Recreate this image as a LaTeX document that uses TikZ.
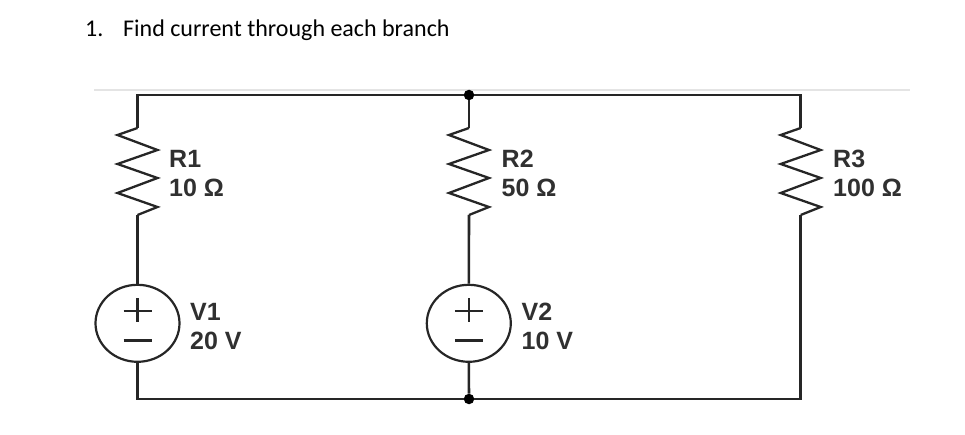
\documentclass[tikz,border=0pt]{standalone}
\usepackage{fontspec}
\setmainfont{Liberation Sans}
\newfontfamily\titlefont{Carlito}
\usetikzlibrary{shapes.geometric}
\definecolor{wirecol}{HTML}{262626}
\definecolor{labelcol}{HTML}{303030}
\definecolor{rulecol}{HTML}{E4E4E4}
\tikzset{
  wire/.style={draw=wirecol,line width=2.6pt,line join=miter},
  zig/.style={draw=wirecol,line width=2.3pt,line join=miter},
  srcshape/.style={ellipse,draw=wirecol,line width=2.2pt,minimum width=84pt,minimum height=77pt,inner sep=0pt},
  sign/.style={draw=wirecol,line width=2.1pt},
  minussign/.style={draw=wirecol,line width=2.9pt},
  dotnode/.style={circle,fill=black,minimum size=10.5pt,inner sep=0pt},
  lab/.style={anchor=base west,inner sep=0pt,text=labelcol,font=\fontsize{25}{29}\selectfont\bfseries},
  ttl/.style={anchor=base west,inner sep=0pt,text=black,font=\titlefont\fontsize{24}{28}\selectfont},
}
\newcommand{\zigzag}[3]{%
  \draw[zig] (#1,#2) -- ++(-20,7) -- ++(40,15) -- ++(-40,14) -- ++(40,14) -- ++(-40,15) -- ++(40,14) -- (#1,#3);}
\begin{document}
\begin{tikzpicture}[x=1pt,y=-1pt]
\useasboundingbox (0,0) rectangle (965,435);
\node[ttl] (num) at (85,37) {1.};
\node[ttl] (title) at (123,37) {Find current through each branch};
\coordinate (ruleL) at (94,90);
\coordinate (ruleR) at (910,90);
\draw[rulecol,line width=1.2pt] (ruleL) -- (ruleR);
% corners and junctions
\coordinate (t1) at (137.5,95);
\node[dotnode] (t2) at (469,95) {};
\coordinate (t3) at (800.7,95);
\coordinate (b1) at (137.5,399);
\node[dotnode] (b2) at (469,399) {};
\coordinate (b3) at (800.7,399);
% resistor terminals
\coordinate (r1s) at (137.5,128);
\coordinate (r1e) at (137.5,215);
\coordinate (r2s) at (469,128);
\coordinate (r2e) at (469,215);
\coordinate (r3s) at (800.7,128);
\coordinate (r3e) at (800.7,215);
% sources
\node[srcshape] (v1) at (137.5,323.3) {};
\node[srcshape] (v2) at (468.8,323.3) {};
% wires
\draw[wire] (r1s) -- (t1) -- (t2) -- (t3) -- (r3s);
\draw[wire] (t2) -- (r2s);
\draw[wire] (r1e) -- (v1.north);
\draw[wire] (r2e) -- (v2.north);
\draw[wire] (v1.south) -- (b1) -- (b2) -- (b3) -- (r3e);
\draw[wire] (v2.south) -- (b2);
% resistors
\zigzag{137.5}{128}{215}
\zigzag{469}{128}{215}
\zigzag{800.7}{128}{215}
% signs
\draw[sign] ([shift={(-14,-12.5)}]v1.center) -- ([shift={(14,-12.5)}]v1.center);
\draw[sign] ([shift={(0,-25)}]v1.center) -- ([shift={(0,-1)}]v1.center);
\draw[minussign] ([shift={(-14,17.5)}]v1.center) -- ([shift={(14,17.5)}]v1.center);
\draw[sign] ([shift={(-14,-12.5)}]v2.center) -- ([shift={(14,-12.5)}]v2.center);
\draw[sign] ([shift={(0,-25)}]v2.center) -- ([shift={(0,-1)}]v2.center);
\draw[minussign] ([shift={(-14,17.5)}]v2.center) -- ([shift={(14,17.5)}]v2.center);
% labels
\node[lab] (l1a) at (169,167.5) {R1};
\node[lab] (l1b) at (169,196.5) {10 Ω};
\node[lab] (l2a) at (501.5,167.5) {R2};
\node[lab] (l2b) at (501.5,196.5) {50 Ω};
\node[lab] (l3a) at (833,167.5) {R3};
\node[lab] (l3b) at (833,196.5) {100 Ω};
\node[lab] (l4a) at (190,320) {V1};
\node[lab] (l4b) at (190,349) {20 V};
\node[lab] (l5a) at (521.5,320) {V2};
\node[lab] (l5b) at (521.5,349) {10 V};
\end{tikzpicture}
\end{document}
